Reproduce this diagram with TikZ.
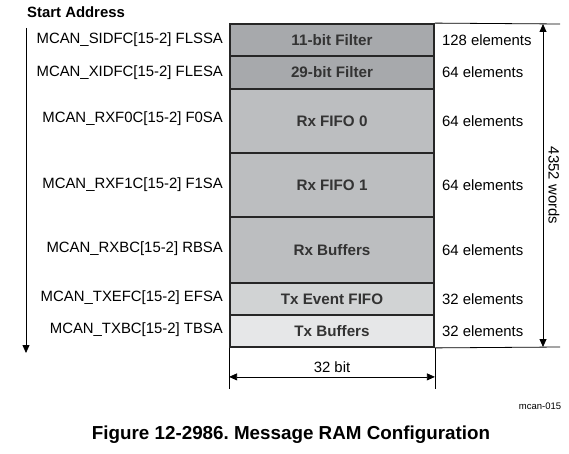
\documentclass[tikz,border=0pt]{standalone}
\usepackage{fontspec}
\setmainfont{Liberation Sans}
\usetikzlibrary{arrows.meta}
\frenchspacing

\definecolor{filtgray}{HTML}{A7A9AC}
\definecolor{rxgray}{HTML}{BCBEC0}
\definecolor{txegray}{HTML}{D1D3D4}
\definecolor{txbgray}{HTML}{E6E7E8}

\tikzset{
    rowbox/.style={draw=black!85,line width=1.8pt,minimum width=204pt,
        inner sep=0pt,font=\fontsize{15.2}{17}\selectfont\bfseries,text=black!80},
    addr/.style={anchor=east,font=\fontsize{14.9}{17}\selectfont,inner sep=0pt},
    elem/.style={anchor=west,font=\fontsize{14.9}{17}\selectfont,inner sep=0pt},
    dimline/.style={line width=0.8pt},
}

\begin{document}
\begin{tikzpicture}[x=1pt,y=-1pt,>={Triangle[width=7pt,length=8pt]}]
    \useasboundingbox (0,0) rectangle (569,454);

    \node[font=\fontsize{14.9}{17}\selectfont\bfseries,anchor=west,inner sep=0pt]
        (start) at (27,12) {Start Address};

    % Memory rows
    \node[rowbox,fill=filtgray,minimum height=32pt] (flt11) at (332,40) {11-bit Filter};
    \node[rowbox,fill=filtgray,minimum height=33pt] (flt29) at (332,72.5) {29-bit Filter};
    \node[rowbox,fill=rxgray,minimum height=64pt] (rxf0) at (332,121) {Rx FIFO 0};
    \node[rowbox,fill=rxgray,minimum height=64pt] (rxf1) at (332,185) {Rx FIFO 1};
    \node[rowbox,fill=rxgray,minimum height=66pt] (rxbuf) at (332,250) {Rx Buffers};
    \node[rowbox,fill=txegray,minimum height=32pt] (txev) at (332,299) {Tx Event FIFO};
    \node[rowbox,fill=txbgray,minimum height=32pt] (txbuf) at (332,331) {Tx Buffers};

    % Start addresses
    \node[addr] (saflt11) at ([xshift=-6pt]flt11.west) {MCAN\_SIDFC[15-2] FLSSA};
    \node[addr] (saflt29) at ([xshift=-6pt]flt29.west) {MCAN\_XIDFC[15-2] FLESA};
    \node[addr] (sarxf0) at ([xshift=-6pt,yshift=2pt]rxf0.west) {MCAN\_RXF0C[15-2] F0SA};
    \node[addr] (sarxf1) at ([xshift=-6pt]rxf1.west) {MCAN\_RXF1C[15-2] F1SA};
    \node[addr] (sarxbuf) at ([xshift=-6pt,yshift=1pt]rxbuf.west) {MCAN\_RXBC[15-2] RBSA};
    \node[addr] (satxev) at ([xshift=-6pt,yshift=1pt]txev.west) {MCAN\_TXEFC[15-2] EFSA};
    \node[addr] (satxbuf) at ([xshift=-6pt,yshift=1pt]txbuf.west) {MCAN\_TXBC[15-2] TBSA};

    % Element counts
    \node[elem] (nflt11) at ([xshift=7pt]flt11.east) {128 elements};
    \node[elem] (nflt29) at ([xshift=7pt]flt29.east) {64 elements};
    \node[elem] (nrxf0) at ([xshift=7pt]rxf0.east) {64 elements};
    \node[elem] (nrxf1) at ([xshift=7pt]rxf1.east) {64 elements};
    \node[elem] (nrxbuf) at ([xshift=7pt]rxbuf.east) {64 elements};
    \node[elem] (ntxev) at ([xshift=7pt]txev.east) {32 elements};
    \node[elem] (ntxbuf) at ([xshift=7pt]txbuf.east) {32 elements};

    % Address direction
    \coordinate (addrtop) at (26,28);
    \coordinate (addrend) at (26,353);
    \draw[->,dimline] (addrtop) -- (addrend);

    % Total size
    \coordinate (wtop) at (560,24);
    \coordinate (wbot) at (560,347);
    \draw[dimline] (flt11.north east) -- (wtop);
    \draw[dimline] (txbuf.south east) -- (wbot);
    \draw[<->,dimline] ([xshift=-17pt]wtop) -- ([xshift=-17pt]wbot)
        node[midway,anchor=south,rotate=-90,inner sep=5pt,
            font=\fontsize{14.9}{17}\selectfont] (words) {4352 words};

    % Width
    \coordinate (wl) at ([yshift=-41pt]txbuf.south west);
    \coordinate (wr) at ([yshift=-41pt]txbuf.south east);
    \draw[dimline] (txbuf.south west) -- (wl);
    \draw[dimline] (txbuf.south east) -- (wr);
    \draw[<->,dimline] ([yshift=-29pt]txbuf.south west) -- ([yshift=-29pt]txbuf.south east)
        node[midway,above,inner sep=4pt,font=\fontsize{14.9}{17}\selectfont] (bits) {32 bit};

    % Caption
    \node[font=\fontsize{9.5}{11}\selectfont] (tag) at (540,406) {mcan-015};
    \node[font=\fontsize{18.8}{21}\selectfont\bfseries] (cap) at (291,435)
        {Figure 12-2986. Message RAM Configuration};
\end{tikzpicture}
\end{document}
